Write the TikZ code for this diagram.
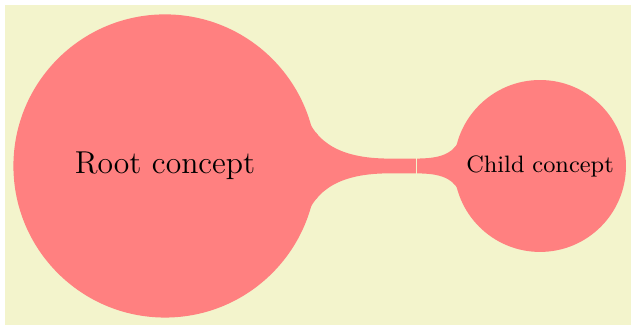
\documentclass[tikz,border=0pt]{standalone}
\usetikzlibrary{mindmap,positioning,calc}
\definecolor{bgyellow}{RGB}{243,244,204}

\begin{document}
\begin{tikzpicture}[
  mindmap,
  concept color=red!50,
  bgrect/.style={fill=bgyellow, draw=none},
  seam/.style={draw=bgyellow, line width=0.4pt}
]

% Rahmen und Hintergrund
\useasboundingbox (-2.2,-2.12) rectangle (6.213,2.213);
\fill[bgrect] (-2.133,-2.12) rectangle (6.213,2.146);

% Konzepte
\node[concept, root concept] (root) at (0,0) {Root concept};
\node[concept, level 1 concept] (child) at (5,0) {Child concept};

% Verbindung
\path (root) to[circle connection bar switch color=from (red!50) to (red!50)] (child);
\coordinate (sw) at ($(root)!0.67!(child)$);
\draw[seam] ($(sw)+(0,-0.115)$) -- ($(sw)+(0,0.115)$);

\end{tikzpicture}
\end{document}
